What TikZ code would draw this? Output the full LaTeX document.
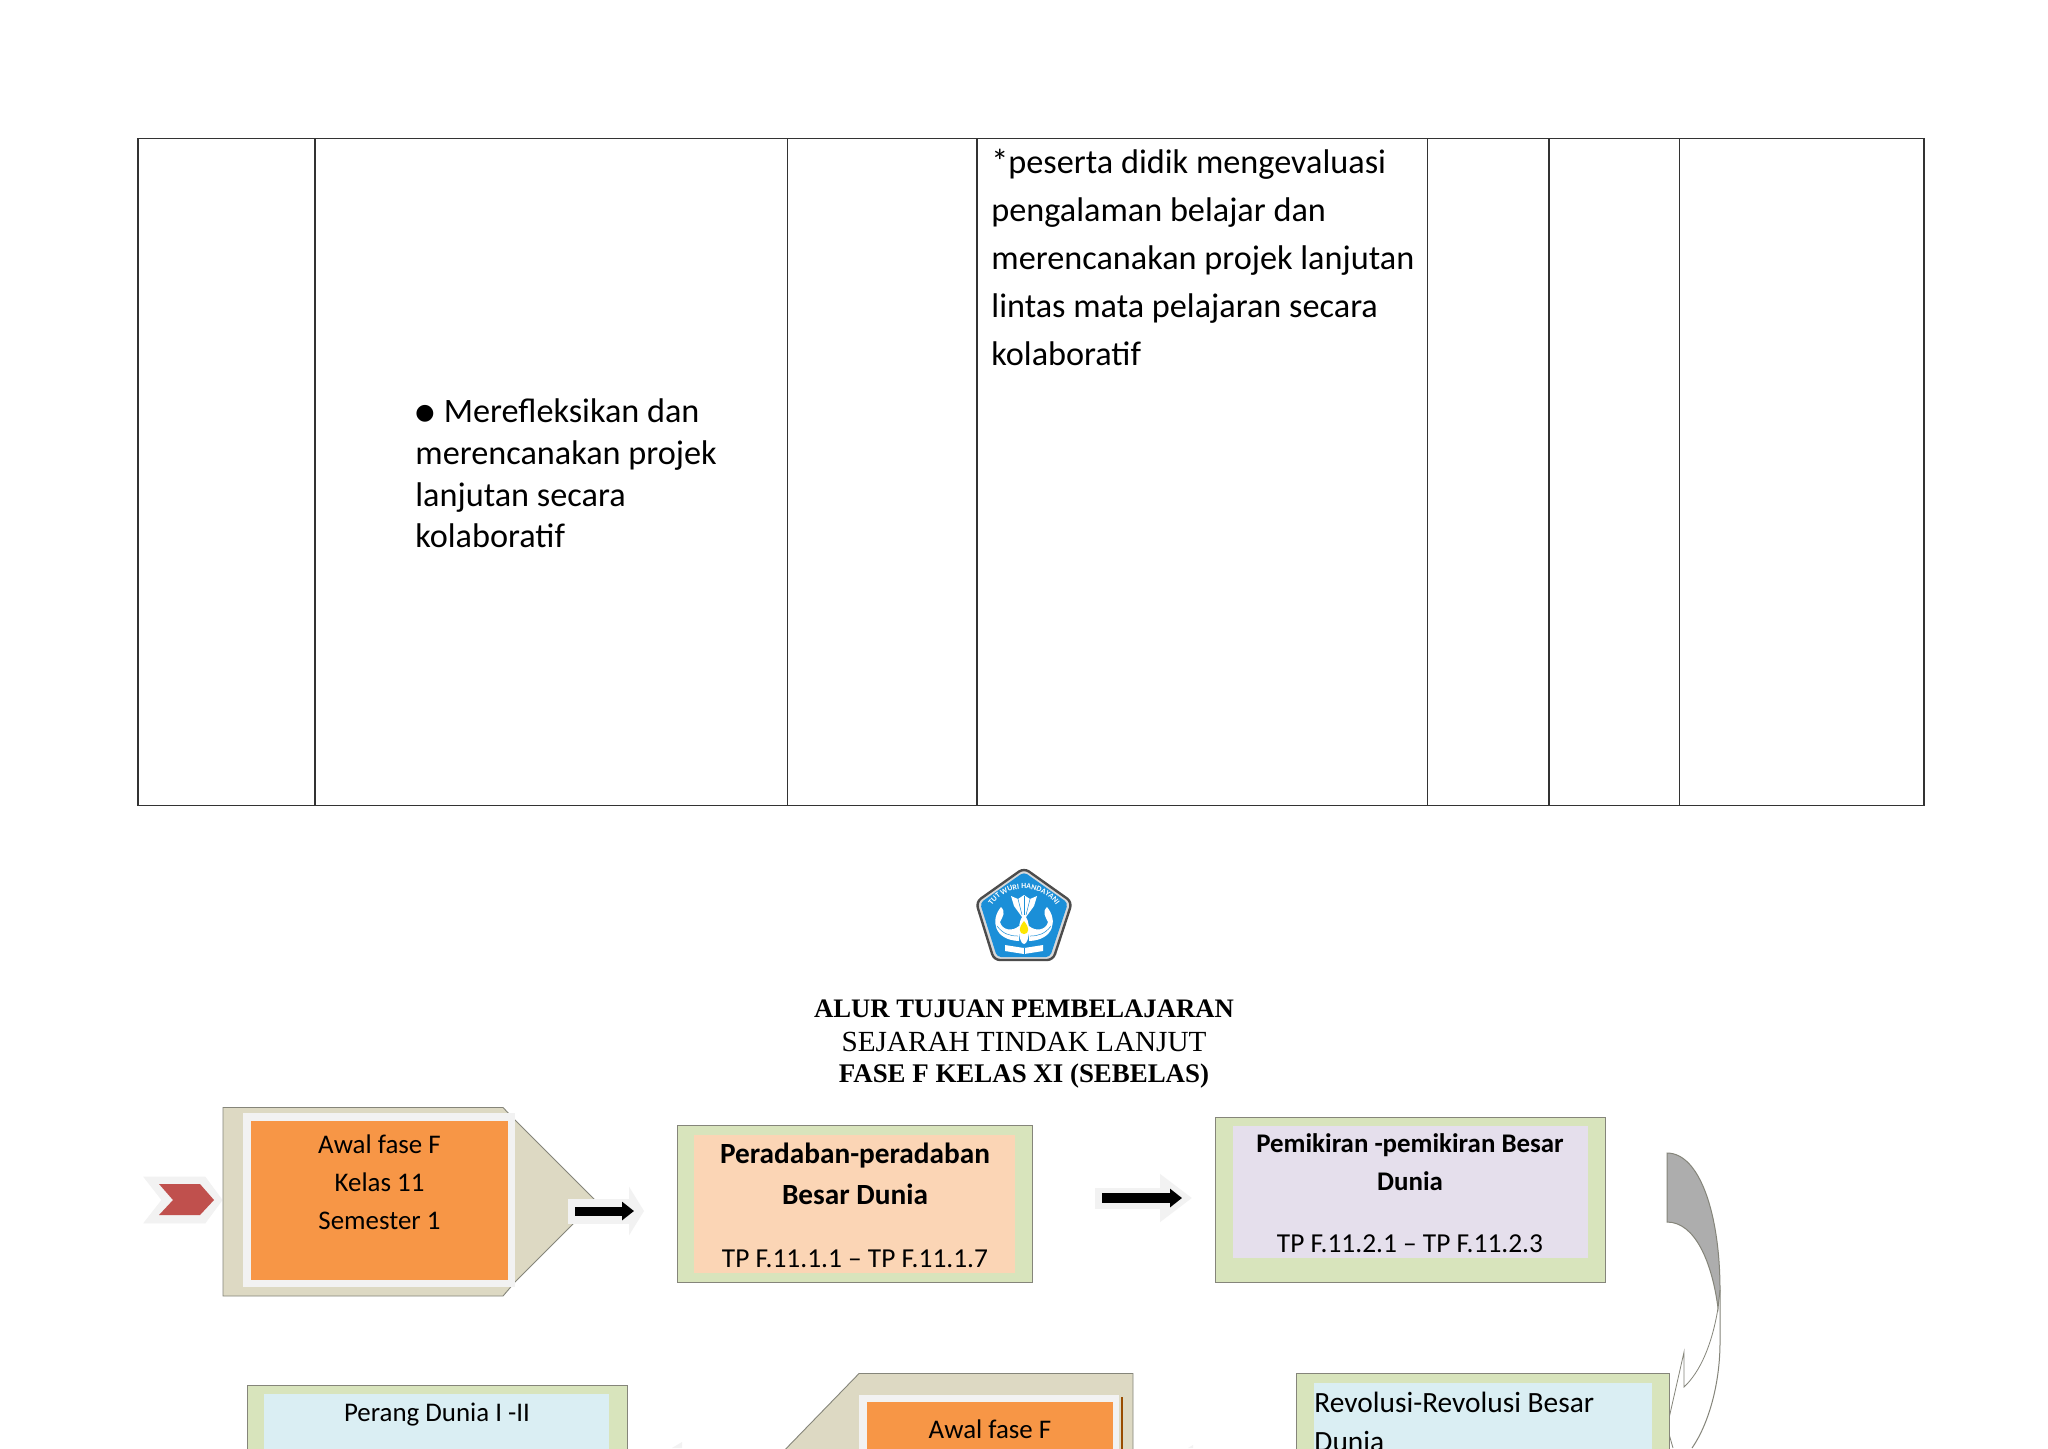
\documentclass[tikz,border=0pt]{standalone}
\usepackage{fontspec}
\setmainfont{Carlito}
\newfontfamily\titlefont{Liberation Serif}
\newfontfamily\symfont{DejaVu Sans}
\usepackage{tikz}
\usetikzlibrary{arrows.meta}
\usetikzlibrary{decorations.text}
\definecolor{tan}{HTML}{DDD9C3}
\definecolor{framegreen}{HTML}{D8E4BC}
\definecolor{edgegray}{HTML}{85857A}
\definecolor{halo}{HTML}{F2F2F2}
\definecolor{orangefill}{HTML}{F79646}
\definecolor{redfill}{HTML}{C0504D}
\definecolor{peach}{HTML}{FBD5B5}
\definecolor{lavender}{HTML}{E5DFEC}
\definecolor{paleblue}{HTML}{DAEEF3}
\definecolor{logoblue}{HTML}{1B8FD8}

\begin{document}
\begin{tikzpicture}[x=0.5pt, y=-0.5pt,
			grid_line/.style = {draw=black!80, line width=0.6pt},
			cell_text/.style = {anchor=west, align=left, inner sep=0pt, font=\fontsize{17.12}{20.8}\selectfont},
			title_text/.style = {inner sep=0pt, font=\titlefont\fontsize{14.6}{16}\selectfont},
			title_bold/.style = {inner sep=0pt, font=\titlefont\bfseries\fontsize{13.35}{15}\selectfont},
			frame_box/.style = {draw=edgegray, line width=0.45pt, fill=framegreen},
			tan_box/.style = {draw=edgegray, line width=0.45pt, fill=tan},
			box_text/.style = {inner sep=0pt, align=center, font=\fontsize{13.45}{19}\selectfont},
			code_text/.style = {inner sep=0pt, font=\fontsize{13.7}{19}\selectfont},
			head_text/.style = {inner sep=0pt, align=center, font=\bfseries\fontsize{14.65}{20.5}\selectfont},
			halo_arrow/.style = {halo, line width=11pt, -{Triangle[length=10pt,width=23pt]}},
			black_arrow/.style = {black, line width=4.5pt, -{Triangle[length=6pt,width=9pt]}},
			logo_line/.style = {logoblue, line width=0.25pt},]

			\useasboundingbox (0,0) rectangle (2048,1448);
			\clip (0,0) rectangle (2048,1448);
			\fill[white] (0,0) rectangle (2048,1448);

			%% TABLE AT THE TOP
			\draw[grid_line] (138,138.5) rectangle (1924,805.5);
			\draw[grid_line] (315,138.5) -- (315,805.5);
			\draw[grid_line] (787.5,138.5) -- (787.5,805.5);
			\draw[grid_line] (977,138.5) -- (977,805.5);
			\draw[grid_line] (1427.5,138.5) -- (1427.5,805.5);
			\draw[grid_line] (1549,138.5) -- (1549,805.5);
			\draw[grid_line] (1679.5,138.5) -- (1679.5,805.5);
			\node[cell_text] (refleksi) at (415,473.5) {\raisebox{1.6pt}{\symfont\fontsize{11}{11}\selectfont ●}\kern4.6pt Merefleksikan dan\\merencanakan projek\\lanjutan secara\\kolaboratif};
			\node[cell_text, font=\fontsize{17.12}{24}\selectfont] (evaluasi) at (991,257.5) {*peserta didik mengevaluasi\\pengalaman belajar dan\\merencanakan projek lanjutan\\lintas mata pelajaran secara\\kolaboratif};

			%% LOGO
			\draw[draw=black!70, line width=1.2pt, fill=white!85!black, line join=round, rounded corners=3pt] (1024,868) -- (1072,902) -- (1053,960) -- (994,960) -- (976,902) -- cycle;
			\fill[logoblue, rounded corners=2pt] (1024,872) -- (1068,903) -- (1050,957) -- (997,957) -- (980,903) -- cycle;
			\path[decorate, decoration={text along path, text align=center, text color=white, text={|\bfseries\fontsize{3.9}{5}\selectfont|TUT WURI HANDAYANI}}] (987,914) .. controls (1002,880) and (1046,880) .. (1061,914);
			\fill[white] (1011,896) -- (1018,899) -- (1024,895) -- (1030,899) -- (1037,896) -- (1034,906) -- (1026,917) -- (1022,917) -- (1014,906) -- cycle;
			\draw[logo_line] (1018,899) -- (1022,915);
			\draw[logo_line] (1024,896) -- (1024,915);
			\draw[logo_line] (1030,899) -- (1026,915);
			\fill[white] (1001,907) .. controls (990,920) and (994,940) .. (1019,941) -- (1019,926) .. controls (1012,932) and (1002,930) .. (1000,922) .. controls (1003,916) and (1006,912) .. (1001,907) -- cycle;
			\fill[white] (1047,907) .. controls (1058,920) and (1054,940) .. (1029,941) -- (1029,926) .. controls (1036,932) and (1046,930) .. (1048,922) .. controls (1045,916) and (1042,912) .. (1047,907) -- cycle;
			\draw[logo_line] (997,926) .. controls (1003,934) and (1010,936) .. (1018,936);
			\draw[logo_line] (1051,926) .. controls (1045,934) and (1038,936) .. (1030,936);
			\fill[white] (1024,930) ellipse (5 and 14);
			\fill[yellow!90!orange] (1024,921) .. controls (1030,928) and (1029,934) .. (1024,934) .. controls (1019,934) and (1018,928) .. (1024,921) -- cycle;
			\fill[white] (1005,945) -- (1024,948) -- (1043,945) -- (1043,951) -- (1024,954) -- (1005,951) -- cycle;
			\draw[logo_line] (1024,948) -- (1024,954);

			%% TITLE
			\node[title_bold] (judul) at (1024,1009) {ALUR TUJUAN PEMBELAJARAN};
			\node[title_text] (mapel) at (1024,1042) {SEJARAH TINDAK LANJUT};
			\node[title_bold, font=\titlefont\bfseries\fontsize{13.45}{15}\selectfont] (fase) at (1024,1076) {FASE F KELAS XI (SEBELAS)};

			%% FIRST ROW
			\draw[halo, fill=halo] (144,1177) -- (205,1177) -- (222,1200) -- (205,1223) -- (144,1223) -- (162,1200) -- cycle;
			\fill[redfill] (159,1184) -- (200,1184) -- (214,1200) -- (200,1215) -- (159,1215) -- (173,1200) -- cycle;
			\draw[tan_box] (223,1107.5) -- (503,1107.5) -- (515,1120) -- (596,1201) -- (515,1282) -- (503,1296) -- (223,1296) -- cycle;
			\fill[halo] (243,1113) rectangle (515,1287);
			\fill[orangefill] (251,1121) rectangle (508,1280);
			\node[box_text] (awal) at (379.5,1182.5) {Awal fase F\\Kelas 11\\Semester 1};
			\coordinate (halosatu_a) at (568,1211);
			\coordinate (halosatu_b) at (644,1211);
			\coordinate (panahsatu_a) at (575,1211);
			\coordinate (panahsatu_b) at (634,1211);
			\draw[halo_arrow, line width=12.5pt, -{Triangle[length=7.5pt,width=24pt]}] (halosatu_a) -- (halosatu_b);
			\draw[black_arrow] (panahsatu_a) -- (panahsatu_b);

			\draw[frame_box] (677,1125.5) rectangle (1032,1282);
			\fill[peach] (694,1135) rectangle (1015,1273);
			\node[head_text] (peradaban) at (855,1174) {Peradaban-peradaban\\Besar Dunia};
			\node[code_text] (tpsatu) at (855,1259) {TP F.11.1.1 -- TP F.11.1.7};
			\coordinate (haloduaa) at (1095,1198);
			\coordinate (haloduab) at (1192,1198);
			\coordinate (panahduaa) at (1102,1198);
			\coordinate (panahduab) at (1182,1198);
			\draw[halo_arrow, line width=10.5pt, -{Triangle[length=16pt,width=23pt]}] (haloduaa) -- (haloduab);
			\draw[black_arrow, line width=5pt] (panahduaa) -- (panahduab);

			\draw[frame_box] (1215,1117.5) rectangle (1605,1282);
			\fill[lavender] (1233,1126) rectangle (1587.5,1258);
			\node[head_text, font=\bfseries\fontsize{13.45}{19}\selectfont] (pemikiran) at (1410,1162) {Pemikiran -pemikiran Besar\\Dunia};
			\node[code_text] (tpdua) at (1410,1244) {TP F.11.2.1 -- TP F.11.2.3};

			%% CURVED ARROW ON THE RIGHT
			\draw[edgegray, line width=0.5pt, fill=black!32] (1667,1153) .. controls (1700,1153) and (1720,1215) .. (1720,1290) -- (1718,1308) .. controls (1712,1262) and (1695,1222) .. (1667,1222) -- cycle;
			\draw[edgegray, line width=0.4pt] (1718,1308) .. controls (1712,1345) and (1700,1372) .. (1684,1387) -- (1684,1352) -- (1667,1427) -- (1673,1448);
			\draw[edgegray, line width=0.5pt] (1720,1290) -- (1720,1342) .. controls (1720,1385) and (1708,1425) .. (1692,1448);

			%% SECOND ROW, CUT BY THE PAGE
			\fill[halo] (682,1442) -- (672,1448) -- (682,1448) -- cycle;
			\fill[halo] (1193,1445) -- (1188,1448) -- (1193,1448) -- cycle;
			\draw[frame_box] (247.5,1385.5) rectangle (627,1460);
			\fill[paleblue] (264,1394) rectangle (609,1460);
			\node[box_text] (perang) at (437,1414.5) {Perang Dunia I -II};

			\draw[tan_box] (859,1373.5) -- (1133,1373.5) -- (1133,1460) -- (775,1460) -- cycle;
			\fill[halo] (859,1395) rectangle (1119,1460);
			\fill[orangefill] (867,1402) rectangle (1113,1460);
			\draw[orange!60!black, line width=1.4pt] (1122,1397) -- (1122,1460);
			\node[box_text] (awal_b) at (990,1429.5) {Awal fase F};

			\draw[frame_box] (1296,1373.5) rectangle (1669,1460);
			\fill[paleblue] (1313.5,1383) rectangle (1652,1460);
			\node[box_text, align=left, anchor=west, font=\fontsize{14.7}{19.5}\selectfont] (revolusi) at (1314,1421.5) {Revolusi-Revolusi Besar\\Dunia};
			\end{tikzpicture}
\end{document}
